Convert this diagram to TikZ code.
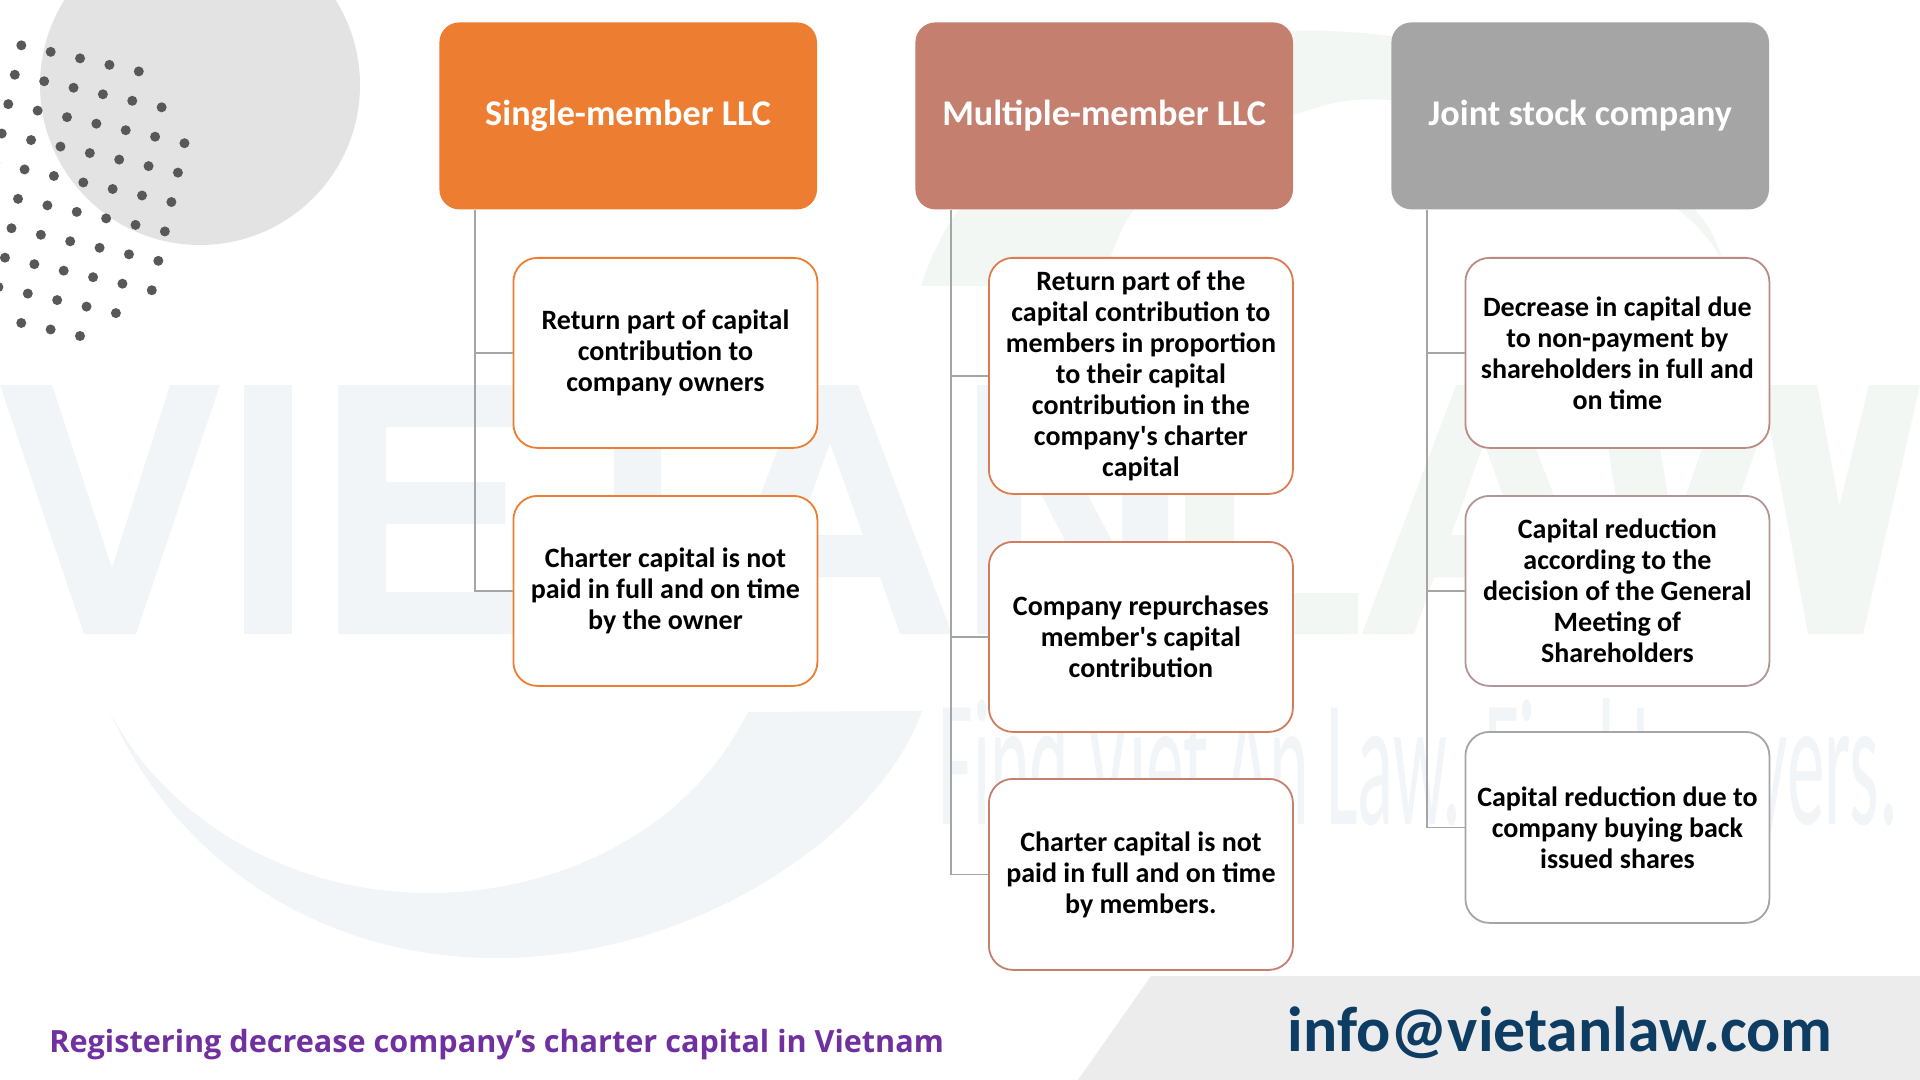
\documentclass[tikz,border=0pt]{standalone}
\usepackage{fontspec}
\setmainfont{Carlito}[Ligatures=TeXOff]
\newfontfamily\headfont{Open Sans}
\newfontfamily\mailfont{Carlito}
\newfontfamily\markfont{Carlito}
\usetikzlibrary{calc}
\definecolor{hOrange}{HTML}{ED7D31}
\definecolor{hRose}{HTML}{C47F6E}
\definecolor{hGray}{HTML}{A5A5A5}
\definecolor{bOne}{HTML}{DD7C50}
\definecolor{bTwo}{HTML}{CF7C5F}
\definecolor{cOne}{HTML}{BA8A83}
\definecolor{cTwo}{HTML}{B29695}
\definecolor{wBlue}{HTML}{F1F5F8}
\definecolor{wGreen}{HTML}{F3F7F4}
\definecolor{dotc}{HTML}{585858}
\definecolor{disc}{HTML}{E3E3E3}
\definecolor{band}{HTML}{ECECEC}
\definecolor{titlec}{HTML}{7030A0}
\definecolor{mailc}{HTML}{0E3D63}
\tikzset{
  x=0.5pt,y=-0.5pt,
  header/.style={fill=#1,draw=none,rounded corners=10pt,minimum width=188.8pt,minimum height=93.5pt,inner sep=0pt,
    text=white,anchor=north west},
  headtext/.style={font=\fontsize{18.1}{22}\selectfont\bfseries,text=white,inner sep=0pt},
  child/.style={fill=white,draw=#1,line width=0.9pt,rounded corners=12pt,inner sep=0pt,text=black,align=center,
    font=\fontsize{14}{15.5}\selectfont\bfseries,anchor=north west,minimum width=152pt},
  conn/.style={draw=hGray,line width=0.9pt},
  wmblue/.style={fill=wBlue,draw=none},
  wmgreen/.style={fill=wGreen,draw=none}
}
\begin{document}
\begin{tikzpicture}
\useasboundingbox (0,0) rectangle (1920,1080);
\fill[white] (0,0) rectangle (1920,1080);
% swoosh bottom
\fill[wBlue] (110,712) .. controls (175,860) and (320,958) .. (496,958) .. controls (700,958) and (880,830) .. (922,711) -- (748,712) .. controls (690,830) and (560,893) .. (429,893) .. controls (280,893) and (160,810) .. (110,712) -- cycle;
% swoosh top green
\fill[wGreen] plot[smooth,tension=0.6] coordinates {(921,286) (957,212) (1060,95) (1190,45) (1330,31) (1470,55) (1600,125) (1697,212) (1722,260)}
  -- plot[smooth,tension=0.6] coordinates {(1722,260) (1681,212) (1560,130) (1388,100) (1296,114) (1190,160) (1132,212) (1100,286)} -- cycle;
% big letters
\fill[wmblue] (0,385) -- (52,385) -- (112,568) -- (170,385) -- (220,385) -- (136,634) -- (84,634) -- cycle;
\fill[wmblue] (244,385) rectangle (292,634);
\fill[wmblue] (338,385) -- (520,385) -- (520,427) -- (386,427) -- (386,482) -- (505,482) -- (505,524) -- (386,524) -- (386,592) -- (520,592) -- (520,634) -- (338,634) -- cycle;
\fill[wmblue] (530,385) -- (745,385) -- (745,427) -- (661,427) -- (661,634) -- (614,634) -- (614,427) -- (530,427) -- cycle;
\fill[wmblue,even odd rule] (802,385) -- (858,385) -- (952,634) -- (900,634) -- (880,577) -- (780,577) -- (760,634) -- (708,634) -- cycle (830,443) -- (797,535) -- (863,535) -- cycle;
\fill[wmblue] (977,385) -- (1030,385) -- (1122,560) -- (1122,385) -- (1168,385) -- (1168,634) -- (1113,634) -- (1021,455) -- (1021,634) -- (977,634) -- cycle;
\fill[wmgreen] (1185,385) -- (1234,385) -- (1234,593) -- (1358,593) -- (1358,634) -- (1185,634) -- cycle;
\fill[wmgreen,even odd rule] (1456,385) -- (1512,385) -- (1606,634) -- (1554,634) -- (1534,577) -- (1434,577) -- (1414,634) -- (1362,634) -- cycle (1484,443) -- (1451,535) -- (1517,535) -- cycle;
\fill[wmgreen] (1598,385) -- (1650,385) -- (1690,634) -- (1638,634) -- cycle;
\fill[wmgreen] (1638,634) -- (1690,634) -- (1779,385) -- (1724,385) -- cycle;
\fill[wmgreen] (1762,385) -- (1817,385) -- (1863,634) -- (1808,634) -- cycle;
\fill[wmgreen] (1808,634) -- (1863,634) -- (1920,385) -- (1869,385) -- cycle;
% tagline watermark
\node[anchor=base west,inner sep=0pt,text=wBlue] (tagmark) at (938,824) {\markfont\resizebox{480pt}{63pt}{\fontsize{10}{12}\selectfont Find Viet An Law. Find Lawyers.}};
% disc and dots
\fill[disc] (200,85) circle [radius=160];
\foreach \j/\a/\b in {0/0/4,1/0/5,2/0/6,3/0/6,4/0/6,5/1/6,6/1/6,7/1/6,8/1/5,9/2/4}{
  \foreach \i in {\a,...,\b}{
    \fill[dotc] ({(64+88.1*\i-19.6*\j)/3},{(136+19.55*\i+88.2*\j)/3}) circle [radius=5];
  }
}
% band
\fill[band] (1151,976) -- (1920,976) -- (1920,1080) -- (1078,1080) -- cycle;
% headers
\node[header=hOrange] (h1) at (439,22) {};
\node[header=hRose] (h2) at (915,22) {};
\node[header=hGray] (h3) at (1391,22) {};
\node[headtext,yshift=0.2pt] (h1t) at (h1) {Single-member LLC};
\node[headtext,yshift=0.2pt] (h2t) at (h2) {Multiple-member LLC};
\node[headtext,yshift=0.2pt] (h3t) at (h3) {Joint stock company};
% children
\node[child=hOrange,minimum height=95pt] (a1) at (512.5,257) {Return part of capital\\contribution to\\company owners};
\node[child=hOrange,minimum height=95pt] (a2) at (512.5,495) {Charter capital is not\\paid in full and on time\\by the owner};
\node[child=bOne,minimum height=118pt] (b1) at (988,257) {Return part of the\\capital contribution to\\members in proportion\\to their capital\\contribution in the\\company's charter\\capital};
\node[child=bTwo,minimum height=95pt] (b2) at (988,541) {Company repurchases\\member's capital\\contribution};
\node[child=hRose,minimum height=95.5pt] (b3) at (988,778) {Charter capital is not\\paid in full and on time\\by members.};
\node[child=cOne,minimum height=95pt] (c1) at (1464.5,257) {Decrease in capital due\\to non-payment by\\shareholders in full and\\on time};
\node[child=cTwo,minimum height=95pt] (c2) at (1464.5,495) {Capital reduction\\according to the\\decision of the General\\Meeting of\\Shareholders};
\node[child=hGray,minimum height=95.5pt] (c3) at (1464.5,731) {Capital reduction due to\\company buying back\\issued shares};
% connectors
\coordinate (t1) at ([xshift=18pt]h1.south west);
\coordinate (t2) at ([xshift=18pt]h2.south west);
\coordinate (t3) at ([xshift=18pt]h3.south west);
\draw[conn] (t1) |- (a1.west);
\draw[conn] (t1) |- (a2.west);
\draw[conn] (t2) |- (b1.west);
\draw[conn] (t2) |- (b2.west);
\draw[conn] (t2) |- (b3.west);
\draw[conn] (t3) |- (c1.west);
\draw[conn] (t3) |- (c2.west);
\draw[conn] (t3) |- (c3.west);
% footer
\node[anchor=base west,inner sep=0pt,text=titlec] (title) at (49,1052) {\headfont\bfseries\fontsize{15.3}{18}\selectfont Registering decrease company’s charter capital in Vietnam};
\node[anchor=base west,inner sep=0pt,text=mailc] (mail) at (1287,1051) {\mailfont\bfseries\fontsize{31.9}{36}\selectfont info@vietanlaw.com};
\end{tikzpicture}
\end{document}
